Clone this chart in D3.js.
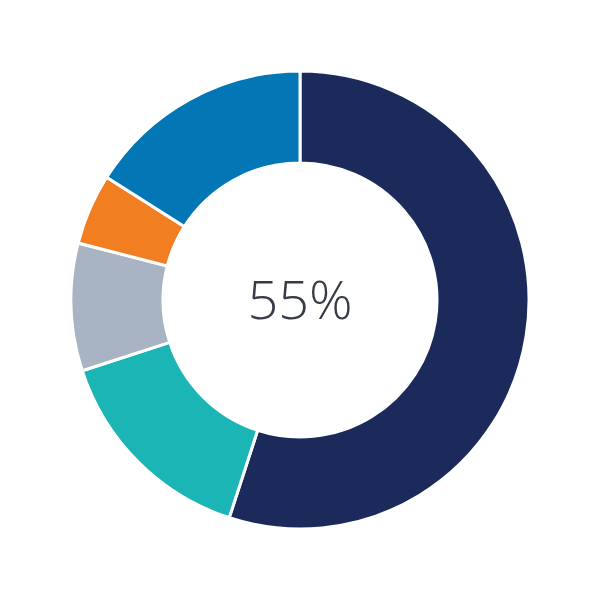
<!DOCTYPE html>
<html><head><meta charset="utf-8">
<script src="https://cdn.jsdelivr.net/npm/d3@7"></script>
<style>html,body{margin:0;padding:0;background:#fff;}</style>
</head><body>
<svg id="chart" width="600" height="600"></svg>
<script>
const categories = ["A", "B", "C", "D", "E"];
const values = [55, 15, 9, 5, 16];
const colors = ["#1c2a5b", "#1bb5b5", "#a8b3c3", "#f17e20", "#0376b6"];
const centerLabel = "55%";

const svg = d3.select("#chart");
const cx = 300, cy = 300, outerR = 229, innerR = 137;
const g = svg.append("g").attr("transform", `translate(${cx},${cy})`);
const pie = d3.pie().sort(null).value(d => d.v);
const arc = d3.arc().innerRadius(innerR).outerRadius(outerR);
const data = categories.map((c, i) => ({c, v: values[i], col: colors[i]}));
g.selectAll("path").data(pie(data)).join("path")
  .attr("d", arc)
  .attr("fill", d => d.data.col)
  .attr("stroke", "#fff")
  .attr("stroke-width", 3);
g.append("text").text(centerLabel)
  .attr("text-anchor", "middle")
  .attr("dy", "0.35em")
  .attr("font-family", "'Open Sans', sans-serif")
  .attr("font-weight", 300)
  .attr("font-size", 54)
  .attr("fill", "#363b47");
</script>
</body></html>
